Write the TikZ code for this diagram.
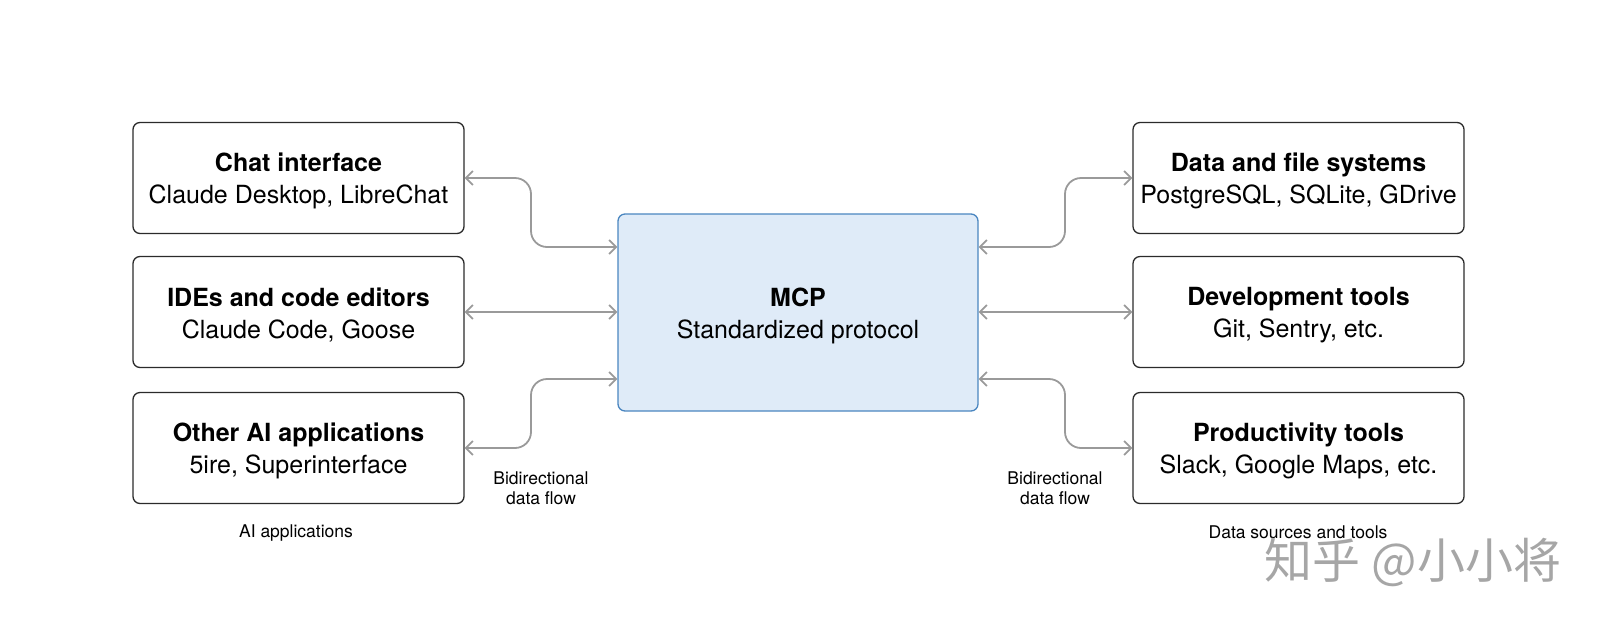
\documentclass[tikz,border=0pt]{standalone}
\usepackage{fontspec}
\setmainfont{TeX Gyre Heros}
\newfontfamily\cjk{Noto Sans CJK SC}
\usetikzlibrary{arrows.meta,calc}
\definecolor{boxline}{HTML}{2B2B2B}
\definecolor{flowgray}{HTML}{9A9A9A}
\definecolor{mcpfill}{HTML}{DFEBF8}
\definecolor{mcpline}{HTML}{4A86C0}
\newcommand\bx[2]{\rule{0pt}{25pt}\textbf{#1}\\#2}
\begin{document}
\begin{tikzpicture}[x=1pt,y=-1pt,
  box/.style={draw=boxline, line width=1.3pt, rounded corners=7pt, minimum width=331pt, minimum height=111pt, align=center, inner sep=0pt, font=\fontsize{25}{32}\selectfont},
  mcpbox/.style={box, draw=mcpline, fill=mcpfill, minimum width=360pt, minimum height=197pt},
  flow/.style={draw=flowgray, line width=1.8pt, rounded corners=16pt, {Straight Barb[length=7pt,width=14pt]}-{Straight Barb[length=7pt,width=14pt]}},
  note/.style={align=center, inner sep=0pt, font=\fontsize{17.5}{20.5}\selectfont}]
\useasboundingbox (0,0) rectangle (1600,625);
% left
\node[box] (c1) at (298.5,178) {\bx{Chat interface}{Claude Desktop, LibreChat}};
\node[box] (c2) at (298.5,312) {\bx{IDEs and code editors}{Claude Code, Goose}};
\node[box] (c3) at (298.5,448) {\bx{Other AI applications}{5ire, Superinterface}};
% center
\node[mcpbox] (mcp) at (798,312.5) {\bx{MCP}{Standardized protocol}};
% right
\node[box] (r1) at (1298.5,178) {\bx{Data and file systems}{PostgreSQL, SQLite, GDrive}};
\node[box] (r2) at (1298.5,312) {\bx{Development tools}{Git, Sentry, etc.}};
\node[box] (r3) at (1298.5,448) {\bx{Productivity tools}{Slack, Google Maps, etc.}};
% connectors
\draw[flow] (c1.east) -| (531,247) -- ($(mcp.west)+(0,-65.5)$);
\draw[flow] (c2.east) -- (mcp.west |- c2.east);
\draw[flow] (c3.east) -| (531,379) -- ($(mcp.west)+(0,66.5)$);
\draw[flow] ($(mcp.east)+(0,-65.5)$) -| (1065,178) -- (r1.west);
\draw[flow] (mcp.east |- r2.west) -- (r2.west);
\draw[flow] ($(mcp.east)+(0,66.5)$) -| (1065,448) -- (r3.west);
% labels
\node[note] (bl) at (541,488) {Bidirectional\\data flow};
\node[note] (br) at (1055,488) {Bidirectional\\data flow};
\node[note] (al) at (296,533) {AI applications};
\node[note] (dl) at (1298,532) {Data sources and tools};
\node[inner sep=0pt, text=black!35, font=\cjk\fontsize{48}{48}\selectfont] (wm) at (1413,562) {知乎 @小小将};
\end{tikzpicture}
\end{document}
